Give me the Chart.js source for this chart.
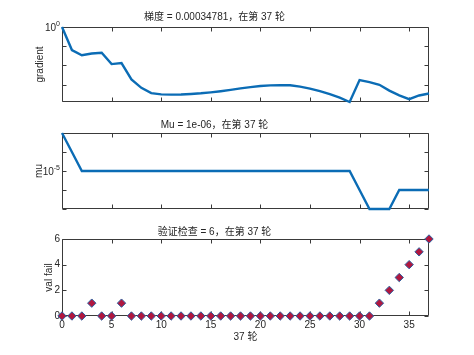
<!DOCTYPE html>
<html><head><meta charset="utf-8">
<script src="https://cdn.jsdelivr.net/npm/chart.js@4.4.1/dist/chart.umd.min.js"></script>
<style>
html,body{margin:0;padding:0;background:#fff;width:474px;height:355px;overflow:hidden;position:relative}
canvas{position:absolute;left:0}
</style></head><body>
<canvas id="c1" width="474" height="110" style="top:0px;width:474px;height:110px"></canvas>
<canvas id="c2" width="474" height="110" style="top:110px;width:474px;height:110px"></canvas>
<canvas id="c3" width="474" height="135" style="top:220px;width:474px;height:135px"></canvas>
<script>
// ---- data ----
const epochs = [0,1,2,3,4,5,6,7,8,9,10,11,12,13,14,15,16,17,18,19,20,21,22,23,24,25,26,27,28,29,30,31,32,33,34,35,36,37];
const gradient = [1, 0.063, 0.034, 0.042, 0.046, 0.0118, 0.0133, 0.0019, 0.00069, 0.000365,
  0.000315, 0.000305, 0.00031, 0.00033, 0.000357, 0.0004, 0.00046, 0.00054, 0.00064, 0.00075,
  0.00085, 0.00092, 0.00095, 0.00093, 0.00079, 0.00063, 0.00046, 0.00032, 0.00021, 0.000126,
  0.00174, 0.00137, 0.00099, 0.00049, 0.000276, 0.000178, 0.000276, 0.00034781];
const mu = [1e-3, 1e-4, 1e-5, 1e-5, 1e-5, 1e-5, 1e-5, 1e-5, 1e-5, 1e-5,
  1e-5, 1e-5, 1e-5, 1e-5, 1e-5, 1e-5, 1e-5, 1e-5, 1e-5, 1e-5,
  1e-5, 1e-5, 1e-5, 1e-5, 1e-5, 1e-5, 1e-5, 1e-5, 1e-5, 1e-5,
  1e-6, 1e-7, 1e-7, 1e-7, 1e-6, 1e-6, 1e-6, 1e-6];
const valFail = [0,0,0,1,0,0,1,0,0,0,0,0,0,0,0,0,0,0,0,0,0,0,0,0,0,0,0,0,0,0,0,0,1,2,3,4,5,6];
const xTicks = [0,5,10,15,20,25,30,35];
const gradientTicks = [1e-3, 1e-2, 1e-1, 1];
const gradientLabels = [{value: 1, exp: '0'}];
const muTicks = [1e-7, 1e-6, 1e-5, 1e-4, 1e-3];
const muLabels = [{value: 1e-5, exp: '-5'}];
const valFailTicks = [0,2,4,6];
const titles = ['梯度 = 0.00034781，在第 37 轮', 'Mu = 1e-06，在第 37 轮', '验证检查 = 6，在第 37 轮'];
const yTitles = ['gradient', 'mu', 'val fail'];
const xTitle = '37 轮';

// ---- style ----
const FONT = '"Liberation Sans", "Noto Sans CJK SC", "DejaVu Sans", sans-serif';
const TEXT = '#262626';
const AXIS = '#3a3a3a';
const LINE = '#0b6cb5';

const boxTicks = {
  id: 'boxTicks',
  beforeDatasetsDraw(chart) {
    const {ctx, chartArea: a, scales: {x, y}} = chart;
    ctx.save();
    ctx.strokeStyle = AXIS; ctx.lineWidth = 1;
    const L = Math.round(a.left) + 0.5, R = Math.round(a.right) - 0.5;
    const T = Math.round(a.top) + 0.5, B = Math.round(a.bottom) - 0.5;
    const tl = 4;
    ctx.beginPath();
    ctx.rect(L, T, R - L, B - T);
    x.ticks.forEach(t => {
      const p = Math.round(x.getPixelForValue(t.value)) + 0.5;
      ctx.moveTo(p, T); ctx.lineTo(p, T + tl);
      ctx.moveTo(p, B); ctx.lineTo(p, B - tl);
    });
    y.ticks.forEach(t => {
      const p = Math.round(y.getPixelForValue(t.value)) + 0.5;
      ctx.moveTo(L, p); ctx.lineTo(L + tl, p);
      ctx.moveTo(R, p); ctx.lineTo(R - tl, p);
    });
    ctx.stroke();
    ctx.restore();
  }
};

// power-of-ten tick labels with a real superscript exponent
const supLabels = {
  id: 'supLabels',
  afterDraw(chart, args, opts) {
    if (!opts || !opts.labels) return;
    const {ctx, chartArea: a, scales: {y}} = chart;
    ctx.save();
    ctx.fillStyle = TEXT;
    ctx.textBaseline = 'middle';
    ctx.textAlign = 'left';
    opts.labels.forEach(l => {
      const py = y.getPixelForValue(l.value);
      ctx.font = '7px ' + FONT;
      const we = ctx.measureText(l.exp).width;
      ctx.font = '10px ' + FONT;
      const wb = ctx.measureText('10').width;
      const xr = a.left - 2;
      ctx.fillText('10', xr - we - wb, py + 1);
      ctx.font = '7px ' + FONT;
      ctx.fillText(l.exp, xr - we, py - 3);
    });
    ctx.restore();
  }
};

const font10 = {size: 10, family: FONT};

function xScale(showLabels, h, withTitle) {
  return {
    type: 'linear', min: epochs[0], max: epochs[epochs.length - 1],
    afterBuildTicks: s => { s.ticks = xTicks.map(v => ({value: v})); },
    afterFit: s => { s.height = h; },
    grid: {display: false, drawTicks: false}, border: {display: false},
    ticks: {display: showLabels, padding: 3, color: TEXT, font: font10, maxRotation: 0, autoSkip: false},
    title: withTitle ? {display: true, text: xTitle, color: TEXT, font: font10, padding: {top: 0, bottom: 12}} : {display: false}
  };
}

function yScale(extra, ticksArr, labelFn, titleText, titlePad) {
  return Object.assign({
    afterBuildTicks: s => { s.ticks = ticksArr.map(v => ({value: v})); },
    afterFit: s => { s.width = 62; },
    grid: {display: false, drawTicks: false}, border: {display: false},
    ticks: {padding: 2, color: TEXT, font: font10, autoSkip: false, callback: labelFn},
    title: {display: true, text: titleText, color: TEXT, font: font10, padding: {top: titlePad, bottom: 0}}
  }, extra);
}

function baseOpts(titleText, tPad, scales, sup) {
  return {
    responsive: false, animation: false, devicePixelRatio: 1,
    layout: {padding: {left: 0, right: 45, top: 0, bottom: 0}},
    plugins: {
      legend: {display: false}, tooltip: {enabled: false},
      title: {display: true, text: titleText, color: TEXT, font: {size: 10, family: FONT, weight: 'normal'}, padding: tPad},
      supLabels: sup ? {labels: sup} : {}
    },
    scales
  };
}

new Chart(document.getElementById('c1'), {
  type: 'line',
  data: {datasets: [{data: epochs.map((e, i) => ({x: e, y: gradient[i]})), borderColor: LINE, borderWidth: 2.4, pointRadius: 0, tension: 0, clip: false}]},
  options: baseOpts(titles[0], {top: 11, bottom: 4}, {
    x: xScale(false, 8, false),
    y: yScale({type: 'logarithmic', min: Math.min(...gradient), max: Math.max(...gradient)}, gradientTicks, () => '', yTitles[0], 34)
  }, gradientLabels),
  plugins: [boxTicks, supLabels]
});

new Chart(document.getElementById('c2'), {
  type: 'line',
  data: {datasets: [{data: epochs.map((e, i) => ({x: e, y: mu[i]})), borderColor: LINE, borderWidth: 2.4, pointRadius: 0, tension: 0, clip: false}]},
  options: baseOpts(titles[1], {top: 9, bottom: 2}, {
    x: xScale(false, 11, false),
    y: yScale({type: 'logarithmic', min: muTicks[0], max: muTicks[muTicks.length - 1]}, muTicks, () => '', yTitles[1], 33)
  }, muLabels),
  plugins: [boxTicks, supLabels]
});

new Chart(document.getElementById('c3'), {
  type: 'line',
  data: {datasets: [{data: epochs.map((e, i) => ({x: e, y: valFail[i]})), showLine: false, pointStyle: 'rectRot', pointRadius: 4.2, borderWidth: 1, borderColor: '#2d5f9f', backgroundColor: '#b0173f', clip: false}]},
  options: baseOpts(titles[2], {top: 6, bottom: 1}, {
    x: xScale(true, 39, true),
    y: yScale({type: 'linear', min: valFailTicks[0], max: valFailTicks[valFailTicks.length - 1]}, valFailTicks, v => String(v), yTitles[2], 43)
  }),
  plugins: [boxTicks, supLabels]
});
</script>
</body></html>
